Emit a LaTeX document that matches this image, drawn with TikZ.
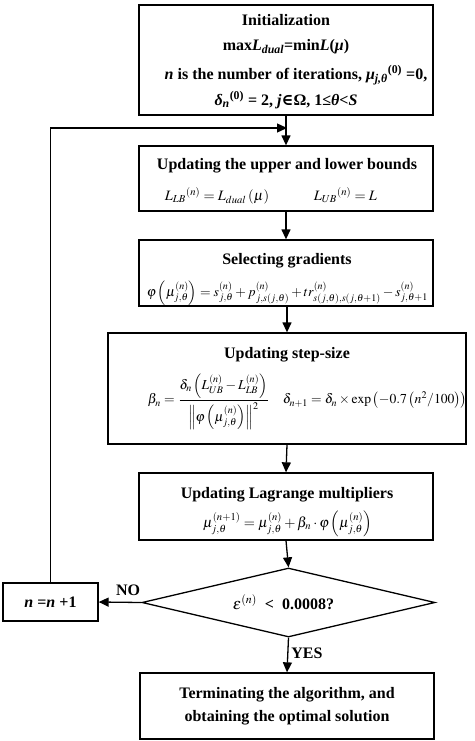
\documentclass[tikz,border=0pt]{standalone}
\usepackage{mathptmx}
\usepackage{amsmath}
\usepackage{fontspec}
\setmainfont{Liberation Serif}
\newfontfamily\dvs{DejaVu Serif}
\usetikzlibrary{arrows.meta,shapes.geometric}
\begin{document}
\begin{tikzpicture}[x=1pt,y=-1pt,
  box/.style={draw,line width=1.3pt,inner sep=0pt},
  ttl/.style={inner sep=0pt,font=\fontsize{16}{20}\selectfont\bfseries},
  frm/.style={inner sep=0pt},
  arr/.style={-{Triangle[length=10pt,width=9pt]},line width=1.3pt}]
\useasboundingbox (0,0) rectangle (474,741);
% boxes
\node[box,minimum width=294pt,minimum height=110pt] (init) at (286,60) {};
\node[box,minimum width=294pt,minimum height=65pt] (b2) at (286,178.5) {};
\node[box,minimum width=294pt,minimum height=66pt] (b3) at (286,273) {};
\node[box,minimum width=358pt,minimum height=111pt] (b4) at (287,388.5) {};
\node[box,minimum width=294pt,minimum height=67pt] (b5) at (286,506.5) {};
\node[box,diamond,aspect=4.25,minimum width=293pt,minimum height=69pt,
  font=\fontsize{16}{20}\selectfont\bfseries] (dia) at (288.5,602.5)
  {\hspace*{-10pt}$\varepsilon^{(n)}$\ \ <\ \ 0.0008?};
\node[box,minimum width=95pt,minimum height=38pt,
  font=\fontsize{16}{20}\selectfont\bfseries] (inc) at (50.5,602) {\textit{n} =\textit{n} +1};
\node[box,minimum width=294pt,minimum height=66pt] (fin) at (287,706) {};
% texts
\begin{scope}[every node/.style={ttl}]
\node (t1a) at (286,20) {Initialization};
\node (t1b) at (286,47) {max\textit{L}\textsubscript{\textit{dual}}=min\textit{L}(\textit{μ})};
\node (t1c) at (296,75) {\textit{n} is the number of iterations, \textit{μ}\textsubscript{\textit{j,θ}}\textsuperscript{(0)} =0,};
\node (t1d) at (286,100) {\textit{δ}\textsubscript{\textit{n}}\textsuperscript{(0)} = 2, \textit{j}{\dvs ∈}Ω, 1≤\textit{θ}<\textit{S}};
\node (t2) at (287,166) {Updating the upper and lower bounds};
\node (t3) at (287,261) {Selecting gradients};
\node (t4) at (287,355) {Updating step-size};
\node (t5) at (287,495) {Updating Lagrange multipliers};
\node (no) at (128,590) {NO};
\node (yes) at (307,653) {YES};
\node (t6a) at (287,695) {Terminating the algorithm, and};
\node (t6b) at (287,718) {obtaining the optimal solution};
\end{scope}
\node[frm] (f2) at (271,196) {\resizebox{212pt}{!}{$L_{LB}{}^{(n)}=L_{dual}\left(\mu\right)\qquad\quad L_{UB}{}^{(n)}=L$}};
\node[frm] (f3) at (287.5,293) {\resizebox{281pt}{!}{$\varphi\left(\mu_{j,\theta}^{(n)}\right)=s_{j,\theta}^{(n)}+p_{j,s(j,\theta)}^{(n)}+tr_{s(j,\theta),s(j,\theta+1)}^{(n)}-s_{j,\theta+1}^{(n)}$}};
\node[frm] (f4) at (307.5,402) {\resizebox{319pt}{!}{$\displaystyle\beta_n=\frac{\delta_n\left(L_{UB}^{(n)}-L_{LB}^{(n)}\right)}{\left\|\varphi\left(\mu_{j,\theta}^{(n)}\right)\right\|^2}\quad\delta_{n+1}=\delta_n\times\exp\left(-0.7\left(n^2/100\right)\right)$}};
\node[frm] (f5) at (287.5,524) {\resizebox{169pt}{!}{$\mu_{j,\theta}^{(n+1)}=\mu_{j,\theta}^{(n)}+\beta_n\cdot\varphi\left(\mu_{j,\theta}^{(n)}\right)$}};
% connectors
\coordinate (join) at (287,128);
\draw[arr] (init.south) -- (b2.north);
\draw[arr] (inc.north) |- (join);
\draw[arr] (b2.south) -- (b3.north);
\draw[arr] (b3.south -| b4.north) -- (b4.north);
\draw[arr] (b4.south) -- (b5.north);
\draw[arr] (b5.south) -- (dia.north);
\draw[arr] (dia.west) -- (inc.east);
\draw[arr] (dia.south) -- (fin.north);
\end{tikzpicture}
\end{document}
